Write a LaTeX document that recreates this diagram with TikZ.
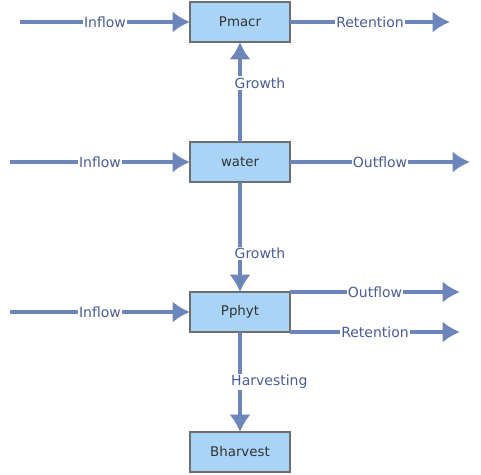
\documentclass[tikz,border=0pt]{standalone}
\usepackage{fontspec}
\setmainfont{DejaVu Sans}
\usetikzlibrary{arrows.meta, positioning}
\definecolor{boxfill}{HTML}{A9D4F6}
\definecolor{boxline}{HTML}{6E6E6E}
\definecolor{flowcol}{HTML}{6C86BC}
\definecolor{lblcol}{HTML}{4A5C96}
\begin{document}
\begin{tikzpicture}[x=0.75pt, y=-0.75pt,
    box/.style={draw=boxline, line width=1.5pt, fill=boxfill, minimum width=75pt, minimum height=30pt, inner sep=0pt, outer sep=0pt, text=black!80, font=\fontsize{10}{12}\selectfont},
    flow/.style={draw=flowcol, line width=3pt, -{Latex[length=13pt, width=16pt]}},
    lbl/.style={fill=white, text=lblcol, inner sep=1pt, font=\fontsize{10.5}{12}\selectfont}]
            \useasboundingbox (0,0) rectangle (481,474);
            % compartments
            \node[box] (pmacr) at (240,22) {Pmacr};
            \node[box] (water) at (240,162) {water};
            \node[box] (pphyt) at (240,312) {Pphyt};
            \node[box] (bharv) at (240,452) {Bharvest};
            % free ends
            \coordinate (in1) at (20,22);
            \coordinate (ret1) at (450,22);
            \coordinate (in2) at (10,162);
            \coordinate (out2) at (470,162);
            \coordinate (in3) at (10,312);
            \coordinate (out3) at (460,292);
            \coordinate (ret3) at (460,332);

            \draw[flow] (in1) -- node[lbl, pos=0.5] {Inflow} (pmacr);
            \draw[flow] (pmacr) -- node[lbl, pos=0.5] {Retention} (ret1);
            \draw[flow] (water) -- node[lbl, pos=0.59, xshift=15pt] {Growth} (pmacr);
            \draw[flow] (in2) -- node[lbl, pos=0.5] {Inflow} (water);
            \draw[flow] (water) -- node[lbl, pos=0.5] {Outflow} (out2);
            \draw[flow] (water) -- node[lbl, pos=0.65, xshift=15pt] {Growth} (pphyt);
            \draw[flow] (in3) -- node[lbl, pos=0.5] {Inflow} (pphyt);
            \draw[flow] (pphyt.north east) -- node[lbl, pos=0.5] {Outflow} (out3);
            \draw[flow] (pphyt.south east) -- node[lbl, pos=0.5] {Retention} (ret3);
            \draw[flow] (pphyt) -- node[lbl, pos=0.5, xshift=22pt] {Harvesting} (bharv);
        \end{tikzpicture}
\end{document}
